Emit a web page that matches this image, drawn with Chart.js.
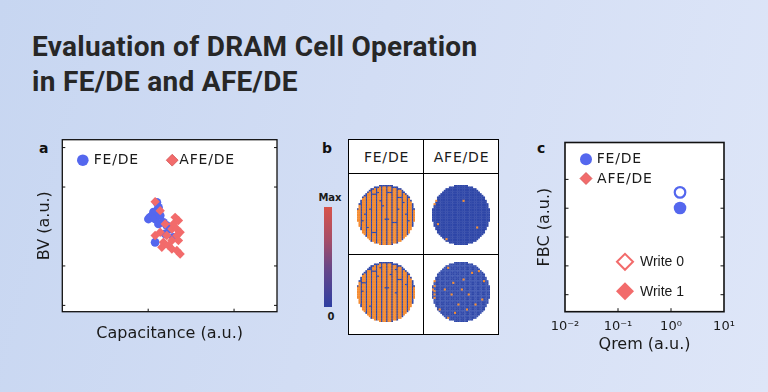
<!DOCTYPE html>
<html><head><meta charset="utf-8">
<script src="https://cdn.jsdelivr.net/npm/chart.js@4.4.1/dist/chart.umd.min.js"></script>
<style>
html,body{margin:0;padding:0}
body{width:768px;height:392px;overflow:hidden;position:relative;
 background:linear-gradient(105deg,#c7d6f1 0%,#d2ddf4 45%,#dee6f8 100%);
 font-family:'DejaVu Sans',sans-serif;color:#1a1a1a}
#title{position:absolute;left:32px;top:30px;font-family:Roboto,sans-serif;font-weight:700;font-size:28px;line-height:34.5px;letter-spacing:0.3px;color:#272727;white-space:nowrap}
.plabel{position:absolute;font-weight:700;font-size:14px;line-height:14px;color:#111}
.cv{position:absolute}
#table{position:absolute;left:348px;top:139px;width:151px;height:196px;background:#fff;border:1px solid #000;box-sizing:border-box}
.ln{position:absolute;background:#000}
.hdr{position:absolute;top:0;height:33px;width:75px;display:flex;align-items:center;justify-content:center;font-size:14px;letter-spacing:0.8px}
.wf{position:absolute;width:66px;height:68px}
#cbar{position:absolute;left:324px;top:207px;width:8px;height:100px;background:linear-gradient(to bottom,#d8534a 0%,#a24d6a 35%,#6a4787 60%,#2f3fa2 100%)}
.cbl{position:absolute;font-weight:700;font-size:10px;line-height:10px;width:40px;text-align:center}
</style>
</head>
<body>
<div id="title">Evaluation of DRAM Cell Operation<br>in FE/DE and AFE/DE</div>

<div class="plabel" style="left:39px;top:141px">a</div>
<div class="plabel" style="left:322px;top:141px">b</div>
<div class="plabel" style="left:537px;top:141px">c</div>

<canvas id="ca" class="cv" width="255" height="215" style="left:30px;top:135px"></canvas>
<canvas id="cc" class="cv" width="240" height="230" style="left:520px;top:135px"></canvas>

<div id="cbar"></div>
<div class="cbl" style="left:310px;top:193px">Max</div>
<div class="cbl" style="left:311px;top:312px">0</div>

<div id="table">
  <div class="ln" style="left:74px;top:0;width:1px;height:194px"></div>
  <div class="ln" style="left:0;top:33px;width:149px;height:1px"></div>
  <div class="ln" style="left:0;top:114px;width:149px;height:1px"></div>
  <div class="hdr" id="h0" style="left:0"></div>
  <div class="hdr" id="h1" style="left:75px"></div>
</div>
<div class="wf" style="left:353px;top:181px"><canvas id="w00"></canvas></div>
<div class="wf" style="left:428px;top:181px"><canvas id="w01"></canvas></div>
<div class="wf" style="left:353px;top:258px"><canvas id="w10"></canvas></div>
<div class="wf" style="left:428px;top:258px"><canvas id="w11"></canvas></div>

<script>
// ================= DATA =================
const seriesNames = ['FE/DE', 'AFE/DE'];

// Panel a : capacitance vs BV (a.u.)
const feCap  = [1.101, 1.120, 1.062, 1.023, 1.003, 1.081, 1.140, 1.178, 1.217, 1.120, 1.256, 1.294, 1.081, 1.198];
const feBV   = [1.806, 1.743, 1.681, 1.617, 1.595, 1.595, 1.638, 1.553, 1.511, 1.532, 1.468, 1.363, 1.300, 1.405];
const afeCap = [1.081, 1.140, 1.314, 1.352, 1.198, 1.276, 1.334, 1.140, 1.081, 1.217, 1.334, 1.178, 1.276, 1.352, 1.159, 1.276, 1.334, 1.372, 1.236, 1.372, 1.294];
const afeBV  = [1.815, 1.701, 1.616, 1.575, 1.532, 1.468, 1.468, 1.427, 1.385, 1.385, 1.385, 1.300, 1.322, 1.322, 1.237, 1.215, 1.195, 1.152, 1.258, 1.427, 1.532];
const aXTicks = [1, 2];
const aYTicks = [0.5, 1, 2, 2.5];
const aAxisTitles = ['Capacitance (a.u.)', 'BV (a.u.)'];

// Panel c : Qrem vs FBC (a.u.)
const writeLabels  = ['Write 0', 'Write 1'];
const feQremWrite0 = [1.48];
const feFbcWrite0  = [4.55];
const feQremWrite1 = [1.48];
const feFbcWrite1  = [4.01];
const cXTicks      = [0.01, 0.1, 1, 10];
const cXTickLabels = ['10\u207B\u00B2', '10\u207B\u00B9', '10\u2070', '10\u00B9'];
const cYTicks      = [1, 2, 3, 4, 5];
const cAxisTitles  = ['Qrem (a.u.)', 'FBC (a.u.)'];

// Panel b : fail-bit wafer maps (column, row cells)
const mapCols = 34, mapRows = 36;
const mapHeaders = ['FE/DE', 'AFE/DE'];
const colorbarLabels = ['Max', '0'];
const feStripeCols = [2, 5, 8, 11, 14, 17, 20, 23, 26, 29, 32];
const feW0BlueCells = [[9,5],[10,5],[11,4],[12,4],[18,4],[19,4],[24,7],[25,7],[26,10],[27,10],[7,14],[8,14],[16,20],[18,20],[21,22],[22,22],[4,17],[3,21],[6,25],[9,28],[10,28],[23,14],[24,14],[13,9],[15,12],[28,17],[30,21]];
const feW1BlueCells = [[6,4],[7,4],[9,5],[10,5],[13,3],[22,4],[24,10],[25,10],[3,17],[3,12],[4,12],[16,15],[18,15],[5,23],[7,26],[22,18],[23,18],[12,8],[19,7],[28,13]];
const afeW0OrangeCells = [[18,9],[26,25],[8,32],[1,7],[2,9],[1,11],[3,23],[30,6]];
const afeW1OrangeCells = [[1,9],[1,11],[0,13],[1,14],[0,16],[1,17],[1,19],[1,21],[6,3],[9,3],[18,10],[15,25],[25,25],[5,31],[9,33],[26,33],[17,16],[30,11],[7,16],[11,19],[4,28],[23,6],[20,28],[13,30],[29,22],[27,5],[12,12],[21,19]];
const afeW1GridCols = [1, 4, 7, 10, 13, 16, 19, 22, 25, 28, 31];
const afeW1GridRows = [2, 5, 8, 11, 14, 17, 20, 23, 26, 29, 32];

// ================= STYLE =================
const PT_BLUE = '#5467ee', PT_RED = '#f26b6b';
const MAP_BLUE = '#2f47a8', MAP_LIGHT = '#3f57b2', MAP_ORANGE = '#f48a2f';
Chart.defaults.font.family = "'DejaVu Sans', sans-serif";
Chart.defaults.color = '#1a1a1a';

document.getElementById('h0').textContent = mapHeaders[0];
document.getElementById('h1').textContent = mapHeaders[1];

function framePlugin(cfg){
  return {
    id:'frame',
    beforeDraw(chart){
      const {ctx, chartArea:a} = chart;
      ctx.save(); ctx.fillStyle='#fff'; ctx.fillRect(a.left,a.top,a.right-a.left,a.bottom-a.top); ctx.restore();
    },
    afterDraw(chart){
      const {ctx, chartArea:a} = chart;
      const xs = chart.scales.x, ys = chart.scales.y, L = cfg.tick;
      ctx.save();
      ctx.strokeStyle = '#111'; ctx.lineWidth = cfg.lw;
      ctx.strokeRect(a.left, a.top, a.right-a.left, a.bottom-a.top);
      ctx.lineWidth = 1;
      ctx.beginPath();
      cfg.yTicks.forEach(v=>{const p=ys.getPixelForValue(v);ctx.moveTo(a.left,p);ctx.lineTo(a.left+L,p);ctx.moveTo(a.right,p);ctx.lineTo(a.right-L,p);});
      cfg.xTicks.forEach(v=>{const p=xs.getPixelForValue(v);ctx.moveTo(p,a.bottom);ctx.lineTo(p,a.bottom-L);});
      ctx.stroke();
      ctx.restore();
    }
  };
}

function legendPlugin(items){
  return {
    id:'inLegend',
    afterDraw(chart){
      const {ctx, chartArea:a} = chart;
      ctx.save();
      for (const it of items){
        const x = a.left + it.dx, y = a.top + it.dy;
        ctx.beginPath();
        if (it.shape === 'circle') ctx.arc(x, y, it.r, 0, Math.PI*2);
        else { ctx.moveTo(x-it.r,y); ctx.lineTo(x,y-it.r); ctx.lineTo(x+it.r,y); ctx.lineTo(x,y+it.r); ctx.closePath(); }
        if (it.fill){ ctx.fillStyle = it.fill; ctx.fill(); }
        if (it.stroke){ ctx.lineWidth = it.lw; ctx.strokeStyle = it.stroke; ctx.stroke(); }
        ctx.font = it.font; ctx.fillStyle = '#1a1a1a';
        ctx.textBaseline = 'middle'; ctx.textAlign = 'left';
        if ('letterSpacing' in ctx) ctx.letterSpacing = it.ls || '0px';
        ctx.fillText(it.text, a.left + it.tx, y + 0.5);
      }
      ctx.restore();
    }
  };
}

const LEG_FONT = "14px 'DejaVu Sans'";

// ---------- Panel a ----------
new Chart(document.getElementById('ca'), {
  type:'scatter',
  data:{datasets:[
    {label:seriesNames[1], data:afeCap.map((x,i)=>({x, y:afeBV[i]})), pointStyle:'rectRot', pointRadius:4.7, backgroundColor:PT_RED, borderWidth:0, order:0},
    {label:seriesNames[0], data:feCap.map((x,i)=>({x, y:feBV[i]})), pointStyle:'circle', pointRadius:4.4, backgroundColor:PT_BLUE, borderWidth:0, order:1}
  ]},
  options:{
    responsive:false, animation:false, events:[],
    layout:{padding:{left:0, top:4, right:8, bottom:0}},
    plugins:{legend:{display:false}, tooltip:{enabled:false}},
    scales:{
      x:{type:'linear', min:0, max:2.5, grid:{display:false}, border:{display:false}, ticks:{display:false},
         title:{display:true, text:aAxisTitles[0], font:{size:16}, padding:{top:0, bottom:6.4}},
         afterFit(s){ s.height = 38.3; }},
      y:{type:'linear', min:0.42, max:2.6, grid:{display:false}, border:{display:false}, ticks:{display:false},
         title:{display:true, text:aAxisTitles[1], font:{size:16}, padding:{top:5.4, bottom:0}},
         afterFit(s){ s.width = 32.3; }}
    }
  },
  plugins:[
    framePlugin({lw:1.3, tick:3, xTicks:aXTicks, yTicks:aYTicks}),
    legendPlugin([
      {shape:'circle', dx:20.5, dy:20.5, r:5.8, fill:PT_BLUE, text:seriesNames[0], tx:31.4, font:LEG_FONT, ls:'0.8px'},
      {shape:'diamond', dx:109.9, dy:20.5, r:5.9, fill:PT_RED, stroke:'#d25050', lw:0.8, text:seriesNames[1], tx:117, font:LEG_FONT, ls:'0.8px'}
    ])
  ]
});

// ---------- Panel c ----------
new Chart(document.getElementById('cc'), {
  type:'scatter',
  data:{datasets:[
    {label:seriesNames[0]+' '+writeLabels[0], data:feQremWrite0.map((x,i)=>({x, y:feFbcWrite0[i]})), pointStyle:'circle', pointRadius:5.3, backgroundColor:'#fff', borderColor:PT_BLUE, borderWidth:2.2},
    {label:seriesNames[0]+' '+writeLabels[1], data:feQremWrite1.map((x,i)=>({x, y:feFbcWrite1[i]})), pointStyle:'circle', pointRadius:6.3, backgroundColor:PT_BLUE, borderWidth:0}
  ]},
  options:{
    responsive:false, animation:false, events:[],
    layout:{padding:{left:0, top:4, right:36, bottom:0}},
    plugins:{legend:{display:false}, tooltip:{enabled:false}},
    scales:{
      x:{type:'logarithmic', min:cXTicks[0], max:cXTicks[cXTicks.length-1],
         afterBuildTicks(s){ s.ticks = cXTicks.map(v=>({value:v})); },
         grid:{display:false}, border:{display:false},
         ticks:{autoSkip:false, maxRotation:0, padding:-1, font:{size:13}, color:'#1a1a1a',
                callback:(v)=>{ const i = cXTicks.indexOf(v); return i>=0 ? cXTickLabels[i] : ''; }},
         title:{display:true, text:cAxisTitles[0], font:{size:16}, padding:{top:0, bottom:11}},
         afterFit(s){ s.height = 53.3; }},
      y:{type:'linear', min:0.41, max:6.28, grid:{display:false}, border:{display:false}, ticks:{display:false},
         title:{display:true, text:cAxisTitles[1], font:{size:16}, padding:{top:15.4, bottom:0}},
         afterFit(s){ s.width = 45; }}
    }
  },
  plugins:[
    framePlugin({lw:1.6, tick:3.5, xTicks:[0.1, 1], yTicks:cYTicks}),
    legendPlugin([
      {shape:'circle', dx:21, dy:16.7, r:6, fill:PT_BLUE, text:seriesNames[0], tx:31.7, font:LEG_FONT, ls:'0.8px'},
      {shape:'diamond', dx:21, dy:36, r:6, fill:PT_RED, stroke:'#d25050', lw:0.8, text:seriesNames[1], tx:32, font:LEG_FONT, ls:'0.8px'},
      {shape:'diamond', dx:60, dy:119.3, r:8, fill:'#fff', stroke:PT_RED, lw:2, text:writeLabels[0], tx:75, font:"14px 'Liberation Sans'"},
      {shape:'diamond', dx:60, dy:148.7, r:9, fill:PT_RED, text:writeLabels[1], tx:75, font:"14px 'Liberation Sans'"}
    ])
  ]
});

// ---------- Panel b : wafer maps ----------
function buildMap(kind){
  const cx = (mapCols-1)/2, cy = (mapRows-1)/2, rx = mapCols/2, ry = mapRows/2;
  const inside = (c,r) => ((c-cx)/rx)**2 + ((r-cy)/ry)**2 <= 1;
  const toSet = arr => new Set(arr.map(([c,r]) => c+','+r));
  const out = {blue:[], light:[], orange:[]};
  const feDef = kind==='fe0' ? toSet(feW0BlueCells) : kind==='fe1' ? toSet(feW1BlueCells) : null;
  const afeOr = kind==='afe0' ? toSet(afeW0OrangeCells) : kind==='afe1' ? toSet(afeW1OrangeCells) : null;
  for (let r=0; r<mapRows; r++) for (let c=0; c<mapCols; c++){
    if (!inside(c,r)) continue;
    const k = c+','+r, p = {x:c, y:r};
    if (feDef){
      const edge = r < cy && !inside(c, r-1);
      if (feStripeCols.includes(c) || feDef.has(k) || edge) out.blue.push(p); else out.orange.push(p);
    } else {
      if (afeOr.has(k)) out.orange.push(p);
      else if (kind==='afe1' && (afeW1GridCols.includes(c) || afeW1GridRows.includes(r))) out.light.push(p);
      else out.blue.push(p);
    }
  }
  return out;
}
function waferChart(id, kind){
  const m = buildMap(kind);
  const ds = (data, color) => ({data, backgroundColor:color, pointStyle:'rect', pointRadius:1.45, borderWidth:0});
  new Chart(document.getElementById(id), {
    type:'scatter',
    data:{datasets:[ds(m.orange, MAP_ORANGE), ds(m.light, MAP_LIGHT), ds(m.blue, MAP_BLUE)]},
    options:{
      responsive:true, maintainAspectRatio:false, animation:false, events:[],
      layout:{padding:0},
      plugins:{legend:{display:false}, tooltip:{enabled:false}},
      scales:{
        x:{type:'linear', min:-0.5, max:mapCols-0.5, display:false},
        y:{type:'linear', min:-0.5, max:mapRows-0.5, reverse:true, display:false}
      }
    }
  });
}
waferChart('w00','fe0');
waferChart('w01','afe0');
waferChart('w10','fe1');
waferChart('w11','afe1');

document.querySelectorAll('.cbl')[0].textContent = colorbarLabels[0];
document.querySelectorAll('.cbl')[1].textContent = colorbarLabels[1];
</script>
</body></html>
